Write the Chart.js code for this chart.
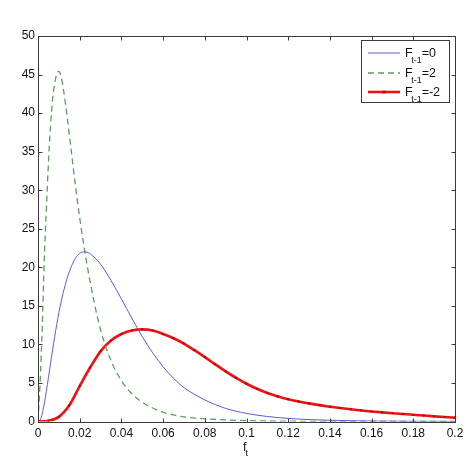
<!DOCTYPE html>
<html><head><meta charset="utf-8">
<script src="https://cdn.jsdelivr.net/npm/chart.js@4"></script>
<style>html,body{margin:0;padding:0;background:#fff}canvas{display:block}</style>
</head><body>
<canvas id="c" width="474" height="474"></canvas>
<script>
// ---- data ----
const xGrid = [0,0.001,0.002,0.003,0.004,0.005,0.006,0.007,0.008,0.009,0.01,0.011,0.012,
  0.014,0.016,0.018,0.02,0.022,0.024,0.027,0.03,
  0.035,0.04,0.045,0.05,0.055,0.06,0.065,0.07,
  0.08,0.09,0.1,0.11,0.12,0.13,0.14,0.15,0.16,0.17,0.18,0.19,0.2];
const blueVals = [0,0.2,1.0,2.3,3.9,5.7,7.5,9.3,11.0,12.6,14.1,15.4,16.6,
  18.6,20.1,21.2,21.8,22.0,21.9,21.3,20.4,
  18.3,15.9,13.4,11.0,8.9,7.1,5.6,4.4,
  2.8,1.7,1.05,0.65,0.4,0.25,0.16,0.1,0.06,0.04,0.025,0.015,0.01];
const greenVals = [0,5,12,21,27.5,33.5,38.3,41.8,43.8,45.1,45.4,44.8,43.4,
  39.5,35.0,30.5,26.4,22.8,19.6,15.4,11.9,
  7.9,5.3,3.6,2.5,1.75,1.2,0.85,0.6,
  0.35,0.2,0.12,0.07,0.04,0.02,0.01,0.01,0,0,0,0,0];
const redX = [0,0.005,0.01,0.015,0.02,0.025,0.03,0.035,0.04,0.045,0.05,0.055,0.06,0.065,0.07,0.075,
  0.08,0.085,0.09,0.095,0.1,0.105,0.11,0.115,0.12,0.125,0.13,0.135,0.14,0.145,0.15,0.155,
  0.16,0.165,0.17,0.175,0.18,0.185,0.19,0.195,0.2];
const redVals = [0,0.1,0.6,2.1,4.6,7.0,9.1,10.5,11.35,11.8,11.95,11.8,11.35,10.8,10.1,9.25,
  8.35,7.4,6.5,5.65,4.9,4.25,3.7,3.25,2.9,2.6,2.35,2.12,1.92,1.74,1.58,1.43,
  1.3,1.18,1.07,0.97,0.87,0.77,0.67,0.58,0.5];
const seriesLabels = ['F_{t-1}=0','F_{t-1}=2','F_{t-1}=-2'];
const legendBase = 'F', legendSub = 't-1';
const legendTails = ['=0','=2','=-2'];
const xTitleBase = 'f', xTitleSub = 't';
const xMin = 0, xMax = 0.2, xStep = 0.02;
const yMin = 0, yMax = 50, yStep = 5;

const FONT = '"Liberation Sans", Arial, Helvetica, sans-serif';
const pts = (xs, ys) => xs.map((x, i) => ({x, y: ys[i]}));

const boxPlugin = {
  id: 'box',
  afterDraw(chart) {
    const ctx = chart.ctx, a = chart.chartArea, xs = chart.scales.x, ys = chart.scales.y;
    ctx.save();
    ctx.strokeStyle = '#3a3a3a'; ctx.lineWidth = 1;
    const L = Math.round(a.left) + 0.5, R = Math.round(a.right) + 0.5;
    const T = Math.round(a.top) + 0.5, B = Math.round(a.bottom) + 0.5;
    ctx.strokeRect(L, T, R - L, B - T);
    ctx.beginPath();
    const tl = 4;
    xs.ticks.forEach(t => {
      const p = Math.round(xs.getPixelForValue(t.value)) + 0.5;
      ctx.moveTo(p, B); ctx.lineTo(p, B - tl);
      ctx.moveTo(p, T); ctx.lineTo(p, T + tl);
    });
    ys.ticks.forEach(t => {
      const p = Math.round(ys.getPixelForValue(t.value)) + 0.5;
      ctx.moveTo(L, p); ctx.lineTo(L + tl, p);
      ctx.moveTo(R, p); ctx.lineTo(R - tl, p);
    });
    ctx.stroke();

    // x axis title with subscript
    ctx.fillStyle = '#111';
    ctx.textBaseline = 'alphabetic';
    ctx.font = '12.5px ' + FONT;
    const cx = (a.left + a.right) / 2 + 0;
    ctx.textAlign = 'left';
    const fw = ctx.measureText(xTitleBase).width;
    ctx.fillText(xTitleBase, cx - fw, 451);
    ctx.font = '9px ' + FONT;
    ctx.fillText(xTitleSub, cx - 1, 456);

    // legend
    const lx = 361.5, ly = 40.5, lw = 88, lh = 62;
    ctx.fillStyle = '#fff';
    ctx.fillRect(lx, ly, lw, lh);
    ctx.strokeStyle = '#3a3a3a';
    ctx.strokeRect(lx, ly, lw, lh);
    const rows = [53, 73, 92];
    chart.data.datasets.forEach((ds, i) => {
      const y = rows[i];
      ctx.save();
      ctx.strokeStyle = ds.borderColor;
      ctx.lineWidth = ds.borderWidth;
      ctx.setLineDash(ds.borderDash || []);
      ctx.beginPath(); ctx.moveTo(368, y); ctx.lineTo(400, y); ctx.stroke();
      if (ds.pointRadius > 0) {
        ctx.fillStyle = ds.pointBackgroundColor;
        ctx.beginPath(); ctx.arc(384, y, 1.6, 0, Math.PI * 2); ctx.fill();
      }
      ctx.restore();
      ctx.fillStyle = '#111';
      ctx.font = '12.5px ' + FONT;
      ctx.fillText(legendBase, 405, y + 4);
      const bw = ctx.measureText(legendBase).width;
      ctx.font = '9px ' + FONT;
      ctx.fillText(legendSub, 405 + bw - 1.5, y + 10);
      const sw = ctx.measureText(legendSub).width;
      ctx.font = '12.5px ' + FONT;
      ctx.fillText(legendTails[i], 405 + bw - 1.5 + sw, y + 4);
    });
    ctx.restore();
  }
};

new Chart(document.getElementById('c'), {
  type: 'line',
  data: {
    datasets: [
      { label: seriesLabels[0], data: pts(xGrid, blueVals), borderColor: '#5c5cd0', borderWidth: 1,
        pointRadius: 0, cubicInterpolationMode: 'monotone', fill: false },
      { label: seriesLabels[1], data: pts(xGrid, greenVals), borderColor: '#5f9a5f', borderWidth: 1.3,
        borderDash: [6, 4], pointRadius: 0, cubicInterpolationMode: 'monotone', fill: false },
      { label: seriesLabels[2], data: pts(redX, redVals), borderColor: '#ee1111', borderWidth: 2.6,
        pointRadius: 1.1, pointBackgroundColor: '#b00000', pointBorderWidth: 0,
        cubicInterpolationMode: 'monotone', fill: false }
    ]
  },
  options: {
    responsive: false,
    animation: false,
    events: [],
    layout: { padding: { top: 36, right: 19, left: 0, bottom: 0 } },
    plugins: { legend: { display: false }, tooltip: { enabled: false } },
    scales: {
      x: {
        type: 'linear', min: xMin, max: xMax,
        ticks: { stepSize: xStep, padding: 5, color: '#111', font: { family: FONT, size: 12 },
          maxRotation: 0, autoSkip: false,
          callback: v => String(Math.round(v * 100) / 100) },
        grid: { display: true, drawOnChartArea: false, drawTicks: false },
        border: { display: false },
        afterFit: s => { s.height = 52.5; }
      },
      y: {
        type: 'linear', min: yMin, max: yMax,
        ticks: { stepSize: yStep, padding: 3, color: '#111', font: { family: FONT, size: 12 } },
        grid: { display: true, drawOnChartArea: false, drawTicks: false },
        border: { display: false },
        afterFit: s => { s.width = 38; }
      }
    }
  },
  plugins: [boxPlugin]
});
</script>
</body></html>
